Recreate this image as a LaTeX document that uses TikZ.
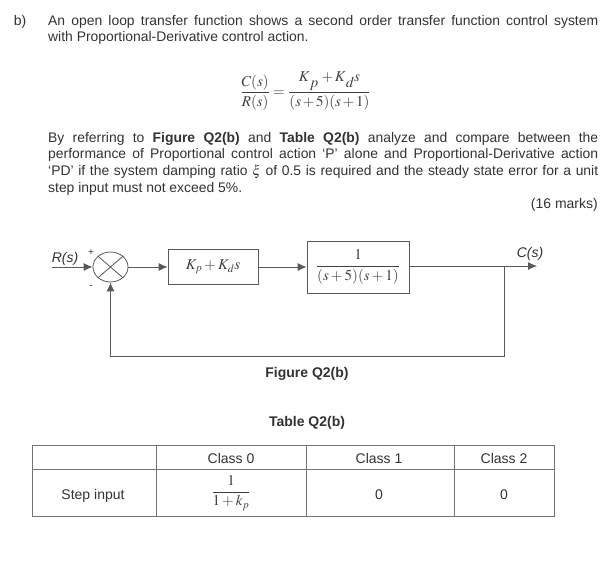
\documentclass[tikz,border=0pt]{standalone}
\usepackage{amsmath}
\usepackage{mathptmx}
\usepackage[no-math]{fontspec}
\setmainfont{Liberation Sans}
\usetikzlibrary{calc,shapes.geometric,arrows.meta}

\tikzset{
    bodytext/.style={anchor=north west, inner sep=0pt, text width=550, align=justify,
        text=black!80, font=\fontsize{13.9}{16.6}\selectfont},
    plaintext/.style={inner sep=0pt, text=black!80, font=\fontsize{14}{16}\selectfont},
    eqtext/.style={inner sep=0pt, text=black!75, font=\fontsize{15}{17}\selectfont},
    blockbox/.style={draw=black!65, line width=0.8pt, inner sep=0pt, text=black!75, font=\fontsize{15}{17}\selectfont},
    flow/.style={draw=black!65, line width=0.9pt, -{Latex[length=9,width=8]}},
    rule/.style={draw=black!55, line width=0.7pt}
}
\newcommand{\lowsub}[1]{\raisebox{-6pt}{$\textstyle #1$}}

\begin{document}
\begin{tikzpicture}[x=1pt, y=-1pt]
    \useasboundingbox[fill=white] (0,0) rectangle (615,586);

    % question text
    \node (part) at (20,21.5) [plaintext] {b)};
    \node (intro) at (48,15) [bodytext] {An open loop transfer function shows a second order transfer function control system\linebreak with Proportional-Derivative control action.};
    \node (eq) at (305.5,91) [eqtext] {\medmuskip=2mu $\dfrac{C(s)}{R(s)}=\dfrac{K\lowsub{p}\,+K\lowsub{d}s}{(s+5)(s+1)}$};
    \node (para) at (48,132) [bodytext] {By referring to \textbf{Figure Q2(b)} and \textbf{Table Q2(b)} analyze and compare between the\linebreak performance of Proportional control action `P' alone and Proportional-Derivative action\linebreak `PD' if the system damping ratio $\xi$ of 0.5 is required and the steady state error for a unit\linebreak step input must not exceed 5\%.};
    \node (marks) at (598,204.5) [plaintext, anchor=east] {(16 marks)};

    % block diagram
    \node (sum) at (110.5,267) [ellipse, draw=black!65, line width=0.8pt, minimum width=35, minimum height=30, inner sep=0pt] {};
    \node (gainPD) at (213,267) [blockbox, minimum width=90, minimum height=35] {$K_p+K_d s$};
    \node (plant) at (358,267) [blockbox, minimum width=102, minimum height=52] {$\dfrac{1}{(s+5)(s+1)}$};
    \coordinate (input) at (52,267);
    \coordinate (output) at (537,266);
    \coordinate (branch) at (504,266);
    \coordinate (corner) at (504,356);

    \draw[black!65, line width=0.8pt] (sum.north west) -- (sum.south east);
    \draw[black!65, line width=0.8pt] (sum.north east) -- (sum.south west);

    \draw[flow] (input) -- (sum);
    \draw[flow] (sum) -- (gainPD);
    \draw[flow] (gainPD) -- (plant);
    \draw[flow] (plant.east |- output) -- (output);
    \draw[flow] (branch) -- (corner) -- (corner -| sum) -- (sum);

    \node (Rs) at (65,258.5) [plaintext] {\textit{R(s)}};
    \node (Cs) at (530,253.5) [plaintext] {\textit{C(s)}};
    \node (plus) at (91,253) [plaintext, font=\fontsize{10}{10}\selectfont] {+};
    \node (minus) at (91,287) [plaintext, font=\fontsize{10}{10}\selectfont] {-};

    \node (figcap) at (307,374) [plaintext] {\textbf{Figure Q2(b)}};
    \node (tabcap) at (307,423) [plaintext] {\textbf{Table Q2(b)}};

    % table
    \coordinate (tl) at (32,445.5);
    \coordinate (br) at (554.5,516.5);
    \draw[rule] (tl) rectangle (br);
    \draw[rule] (32,469.5) -- (554.5,469.5);
    \foreach \x in {156,306,454} {
        \draw[rule] (\x,445.5) -- (\x,516.5);
    }

    \node (class0) at (231,458) [plaintext] {Class 0};
    \node (class1) at (379,458) [plaintext] {Class 1};
    \node (class2) at (504,458) [plaintext] {Class 2};
    \node (step) at (93,496) [plaintext] {Step input};
    \node (frac0) at (231,493) [eqtext] {$\dfrac{1}{1+k_p}$};
    \node (zero1) at (379,495) [plaintext] {0};
    \node (zero2) at (504,495) [plaintext] {0};
\end{tikzpicture}
\end{document}
